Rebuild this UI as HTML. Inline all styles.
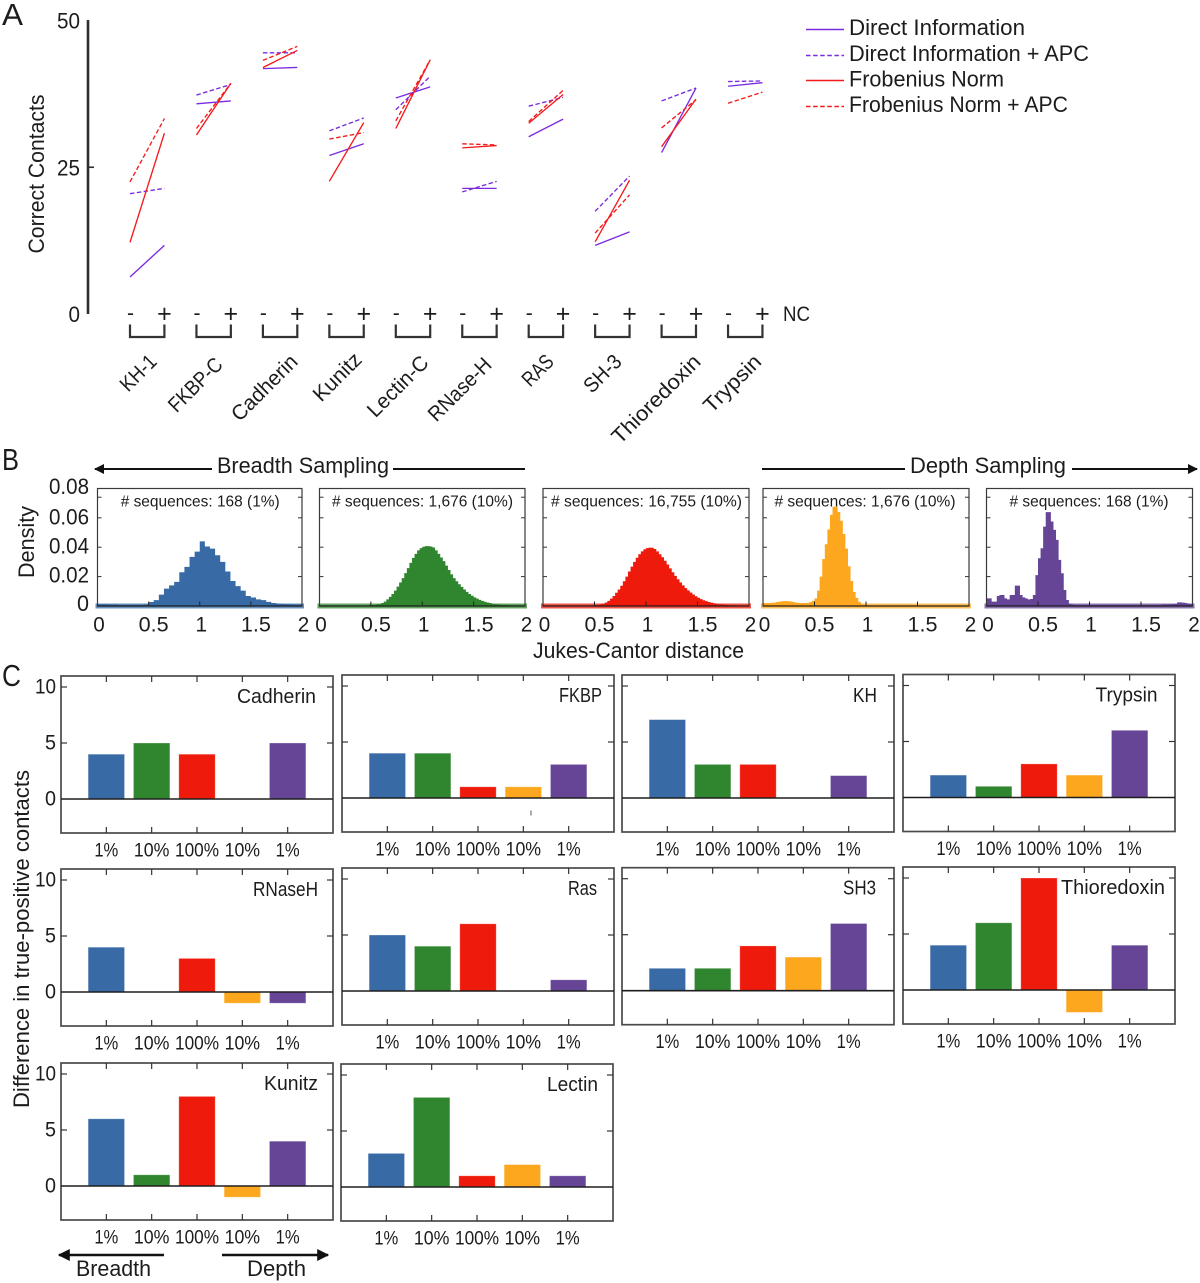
<!DOCTYPE html>
<html lang="en">
<head>
<meta charset="utf-8">
<title>Correct contacts and sampling comparison</title>
<style>
html,body{margin:0;padding:0;background:#fff;}
svg{display:block;}
text{font-family:"Liberation Sans",sans-serif;fill:#1c1c1c;}
</style>
</head>
<body>
<svg id="fig" xmlns="http://www.w3.org/2000/svg" width="1200" height="1283" viewBox="0 0 1200 1283">
  <rect x="0" y="0" width="1200" height="1283" fill="#fff"/>
  <defs>
    <marker id="ah" viewBox="0 0 10 10" refX="9" refY="5" markerWidth="5" markerHeight="5" orient="auto-start-reverse" markerUnits="strokeWidth"><path d="M0 0L10 5L0 10z" fill="#111"/></marker>
  </defs>

  <g id="panel-a">
    <text x="2" y="25" font-size="31" textLength="21" lengthAdjust="spacingAndGlyphs">A</text>
    <text transform="translate(44,174) rotate(-90)" text-anchor="middle" font-size="22" textLength="159" lengthAdjust="spacingAndGlyphs">Correct Contacts</text>
    <text x="783" y="321" font-size="21" textLength="27" lengthAdjust="spacingAndGlyphs">NC</text>
    <g>
      <line x1="806" x2="844" y1="29.5" y2="29.5" stroke="#7a2be0" stroke-width="1.4"/>
      <text x="849" y="35" font-size="22" textLength="176" lengthAdjust="spacingAndGlyphs">Direct Information</text>
      <line x1="806" x2="844" y1="55.5" y2="55.5" stroke="#7a2be0" stroke-width="1.4" stroke-dasharray="4.5 2.6"/>
      <text x="849" y="61" font-size="22" textLength="240" lengthAdjust="spacingAndGlyphs">Direct Information + APC</text>
      <line x1="806" x2="844" y1="80.5" y2="80.5" stroke="#f51a1a" stroke-width="1.4"/>
      <text x="849" y="86.5" font-size="22" textLength="155" lengthAdjust="spacingAndGlyphs">Frobenius Norm</text>
      <line x1="806" x2="844" y1="106.5" y2="106.5" stroke="#f51a1a" stroke-width="1.4" stroke-dasharray="4.5 2.6"/>
      <text x="849" y="112" font-size="22" textLength="219" lengthAdjust="spacingAndGlyphs">Frobenius Norm + APC</text>
    </g>
  </g>

  <g id="panel-b">
    <text x="2" y="470" font-size="31" textLength="17" lengthAdjust="spacingAndGlyphs">B</text>
    <line x1="95" x2="212" y1="469" y2="469" stroke="#111" stroke-width="2" marker-start="url(#ah)"/>
    <line x1="393" x2="525" y1="469" y2="469" stroke="#111" stroke-width="2"/>
    <text x="217" y="473" font-size="22" textLength="172" lengthAdjust="spacingAndGlyphs">Breadth Sampling</text>
    <line x1="762" x2="905" y1="469" y2="469" stroke="#111" stroke-width="2"/>
    <line x1="1072" x2="1197" y1="469" y2="469" stroke="#111" stroke-width="2" marker-end="url(#ah)"/>
    <text x="910" y="473" font-size="22" textLength="156" lengthAdjust="spacingAndGlyphs">Depth Sampling</text>
    <text transform="translate(34,542) rotate(-90)" text-anchor="middle" font-size="22" textLength="72" lengthAdjust="spacingAndGlyphs">Density</text>
    <text x="533" y="658" font-size="22" textLength="211" lengthAdjust="spacingAndGlyphs">Jukes-Cantor distance</text>
    <text x="120.7" y="506.5" font-size="16" textLength="159" lengthAdjust="spacingAndGlyphs"># sequences: 168 (1%)</text>
    <text x="332" y="506.5" font-size="16" textLength="181" lengthAdjust="spacingAndGlyphs"># sequences: 1,676 (10%)</text>
    <text x="551" y="506.5" font-size="16" textLength="191" lengthAdjust="spacingAndGlyphs"># sequences: 16,755 (10%)</text>
    <text x="774.5" y="506.5" font-size="16" textLength="181" lengthAdjust="spacingAndGlyphs"># sequences: 1,676 (10%)</text>
    <text x="1009.5" y="506.5" font-size="16" textLength="159" lengthAdjust="spacingAndGlyphs"># sequences: 168 (1%)</text>
  </g>

  <g id="panel-c">
    <text x="2" y="686" font-size="31" textLength="19" lengthAdjust="spacingAndGlyphs">C</text>
    <text transform="translate(29,939) rotate(-90)" text-anchor="middle" font-size="22" textLength="338" lengthAdjust="spacingAndGlyphs">Difference in true-positive contacts</text>
    <line x1="59" x2="164" y1="1255" y2="1255" stroke="#111" stroke-width="2.4" marker-start="url(#ah)"/>
    <line x1="222" x2="328" y1="1255" y2="1255" stroke="#111" stroke-width="2.4" marker-end="url(#ah)"/>
    <text x="76" y="1276" font-size="22" textLength="75" lengthAdjust="spacingAndGlyphs">Breadth</text>
    <text x="247" y="1276" font-size="22" textLength="59" lengthAdjust="spacingAndGlyphs">Depth</text>
    <rect x="530.5" y="810.5" width="1" height="5" fill="#555"/>
  </g>
</svg>

<script>
/* Panel A data: [no NC, with NC] */
const families = ["KH-1","FKBP-C","Cadherin","Kunitz","Lectin-C","RNase-H","RAS","SH-3","Thioredoxin","Trypsin"];
const directInfo = [[6.3,11.7],[35.8,36.3],[41.8,42],[27,29],[36.8,38.7],[21.4,21.4],[30.2,33.2],[11.7,14],[27.5,38.5],[38.8,39.4]];
const directInfoApc = [[20.5,21.4],[37.3,39.1],[44.5,44.5],[31.2,33.4],[34.8,40.5],[20.8,22.6],[35.4,36.9],[17.5,23.5],[36.3,38.5],[39.6,39.7]];
const frobenius = [[12.2,30.8],[30.5,39.3],[42,44.9],[22.6,32.6],[31.6,43.3],[28.3,28.7],[32.5,37.4],[12.3,22.8],[28.5,36.6],null];
const frobeniusApc = [[22.5,33.3],[31.6,39.3],[43.2,45.6],[29.8,30.9],[32.9,43.3],[29,28.8],[32.8,38.1],[13.8,20.3],[31.7,36.5],[35.9,37.8]];
const aTickLabels = [50,25,0];

/* Panel B data: density per bin, bins span 0..2 */
const histBreadth1 = [.0012,.0012,.001,.001,.0008,.0008,.0008,.0008,.0008,.001,.0027,.004,.0077,.0118,.014,.0164,.023,.0266,.0334,.037,.044,.0405,.039,.0345,.03,.0235,.017,.0135,.0105,.0068,.0058,.0045,.004,.0028,.002,.0016,.0014,.0012,.001,.001];
const histBreadth10 = [.0003,.0003,.0003,.0003,.0003,.0003,.0003,.0003,.0003,.0003,.0003,.0003,.0003,.0003,.0003,.0003,.0003,.0003,.0004,.0005,.0006,.0008,.0011,.0014,.002,.003,.0045,.0062,.0082,.0105,.0132,.016,.019,.0224,.0258,.0293,.0327,.0355,.0378,.0394,.0403,.0407,.0407,.0405,.0398,.0378,.0355,.033,.0305,.0275,.0245,.0215,.019,.0168,.0148,.013,.0112,.0096,.0082,.007,.0059,.005,.0042,.0035,.0029,.0024,.002,.0016,.0013,.0011,.0009,.0008,.0007,.0006,.0005,.0005,.0004,.0004,.0003,.0003];
const histFull = [.0003,.0003,.0003,.0003,.0003,.0003,.0003,.0003,.0003,.0003,.0003,.0003,.0003,.0003,.0003,.0003,.0003,.0003,.0003,.0004,.0006,.0008,.0011,.0016,.0024,.0035,.005,.0068,.009,.0112,.0138,.0168,.02,.0235,.0268,.03,.0328,.0352,.0372,.0386,.0394,.0397,.0396,.0388,.0372,.0352,.0332,.0308,.0282,.0256,.023,.0205,.0182,.016,.014,.0122,.0106,.0092,.0078,.0066,.0056,.0047,.0039,.0033,.0027,.0023,.0019,.0015,.0012,.001,.0009,.0007,.0006,.0005,.0005,.0004,.0004,.0003,.0003,.0003];
const histDepth10 = [.002,.002,.002,.0022,.0023,.0026,.003,.0032,.0033,.0033,.0032,.0028,.0025,.0022,.002,.002,.002,.0022,.0026,.0035,.0052,.0105,.02,.032,.042,.052,.062,.0675,.0675,.064,.058,.049,.039,.027,.017,.0095,.0055,.0028,.0012,.0006,.0004,.0004,.0004,.0004,.0004,.0004,.0004,.0004,.0004,.0004,.0004,.0004,.0004,.0004,.0004,.0004,.0004,.0004,.0004,.0004,.0004,.0004,.0004,.0004,.0004,.0004,.0004,.0004,.0004,.0004,.0004,.0004,.0004,.0004,.0004,.0004,.0004,.0004,.0004,.0004];
const histDepth1 = [.0052,.0052,.003,.003,.0068,.0075,.0075,.0052,.0045,.0075,.0075,.0139,.0139,.0075,.0059,.0052,.0045,.0048,.0075,.021,.0325,.0393,.054,.0639,.0639,.0575,.0518,.045,.0314,.0223,.0109,.0041,.0016,.0009,.0006,.0006,.0006,.0006,.0006,.0006,.0006,.0006,.0006,.0006,.0006,.0006,.0006,.0006,.0006,.0006,.0006,.0006,.0006,.0006,.0006,.0006,.0006,.0006,.0006,.0006,.0006,.0006,.0006,.0006,.0006,.0006,.0006,.0006,.001,.001,.001,.0012,.0014,.0014,.0025,.0025,.0023,.002,.0016,.0014];
const bYTicks = [0.02,0.04,0.06,0.074];
const bXTicks = [0.5,1,1.5];
const bYLabels = ["0.08","0.06","0.04","0.02","0"];
const bXLabels = ["0","0.5","1","1.5","2"];

/* Panel C data */
const proteinNames = ["Cadherin","FKBP","KH","Trypsin","RNaseH","Ras","SH3","Thioredoxin","Kunitz","Lectin"];
const contactDifference = [[4,5,4,0,5],[4,4,1,1,3],[7,3,3,0,2],[2,1,3,2,6],[4,0,3,-1,-1],[5,4,6,0,1],[2,2,4,3,6],[4,6,10,-2,4],[6,1,8,-1,4],[3,8,1,2,1]];
const samplingLabels = ["1%","10%","100%","10%","1%"];
const cYTickLabels = [10,5,0];

/* ---------- drawing ---------- */
const NS = "http://www.w3.org/2000/svg";
const groupA = document.getElementById("panel-a");
const groupB = document.getElementById("panel-b");
const groupC = document.getElementById("panel-c");

function mk(parent, tag, props, name) {
  const el = document.createElementNS(NS, tag);
  for (const k in props) el.setAttribute(k, props[k]);
  
  
  parent.appendChild(el);
  return el;
}
function label(parent, str, props, name) {
  const p = Object.assign({lengthAdjust: "spacingAndGlyphs"}, props);
  const el = mk(parent, "text", p, name);
  el.textContent = str;
  return el;
}
function slug(s) { return String(s).toLowerCase().replace(/[^a-z0-9]+/g, "-"); }

/* Panel A */
const yA = v => 314 - v * 5.87;
const xAMinus = i => 130 + i * 66.45;
const xAPlus = i => xAMinus(i) + 34.4;
const PURPLE = "#7a2be0", RED = "#f51a1a";
mk(groupA, "line", {x1: 88, x2: 88, y1: 20, y2: 314, stroke: "#2e2e2e", "stroke-width": 2.6}, "y-axis-line");
mk(groupA, "line", {x1: 88, x2: 94, y1: yA(25), y2: yA(25), stroke: "#2e2e2e", "stroke-width": 1.6}, "y-axis-tick-25");
aTickLabels.forEach(v => {
  label(groupA, v, {x: 80, y: yA(v) + 8, "text-anchor": "end", "font-size": 22, textLength: v ? 23 : 11.5}, "y-tick-label-" + v);
});
const labelEnds = [[158,363,42],[224,366,67],[299,363,84],[363,361,59],[430,364,77],[493,366,80],[555,363,35],[623,363,44],[702,363,116],[762.6,363,72]];
families.forEach((fam, i) => {
  const g = mk(groupA, "g", {}, "family-" + slug(fam));
  const a = xAMinus(i), b = xAPlus(i);
  label(g, "-", {x: a - 3, y: 320, "font-size": 21}, "nc-minus");
  label(g, "+", {x: b, y: 322, "font-size": 25, "text-anchor": "middle"}, "nc-plus");
  mk(g, "path", {d: `M${a} 324.5V337H${b}V324.5`, fill: "none", stroke: "#333", "stroke-width": 2.2}, "family-bracket");
  const e = labelEnds[i];
  label(g, fam, {transform: `translate(${e[0]},${e[1]}) rotate(-45)`, "text-anchor": "end", "font-size": 21, textLength: e[2]}, "family-label");
  const series = [
    [directInfo[i], PURPLE, false, "direct-information"],
    [directInfoApc[i], PURPLE, true, "direct-information-apc"],
    [frobenius[i], RED, false, "frobenius-norm"],
    [frobeniusApc[i], RED, true, "frobenius-norm-apc"]
  ];
  series.forEach(s => {
    if (!s[0]) return;
    const props = {x1: a, x2: b, y1: yA(s[0][0]), y2: yA(s[0][1]), stroke: s[1], "stroke-width": 1.35};
    if (s[2]) props["stroke-dasharray"] = "4.5 2.4";
    mk(g, "line", props, "line-" + s[3]);
  });
});

/* Panel B */
const histLayout = [[97.5,204.5],[319.5,205.5],[543,206],[763,206],[986.5,206]];
const histSeries = [histBreadth1, histBreadth10, histFull, histDepth10, histDepth1];
const histColors = ["#386ba6","#30862f","#ee1a0c","#fda71f","#664597"];
const histNames = ["breadth-1pct","breadth-10pct","full","depth-10pct","depth-1pct"];
const yB = v => 606 - v * 1470;
histLayout.forEach((box, h) => {
  const left = box[0], w = box[1], right = left + w;
  const xB = d => left + d * w / 2;
  const g = mk(groupB, "g", {}, "histogram-" + histNames[h]);
  const vals = histSeries[h];
  const bw = 2 / vals.length;
  let d = `M${xB(0)} ${yB(0)}`;
  vals.forEach((v, i) => {
    d += `V${yB(v).toFixed(2)}H${xB((i + 1) * bw).toFixed(2)}`;
  });
  d += `V${yB(0)}Z`;
  mk(g, "path", {d: d, fill: histColors[h]}, "histogram-bars");
  mk(g, "rect", {x: left - 2, y: 603.5, width: w + 4, height: 5, fill: histColors[h], opacity: 0.75}, "histogram-baseline-band");
  mk(g, "rect", {x: left, y: 488.5, width: w, height: 117.5, fill: "none", stroke: "#3a3a3a", "stroke-width": 1.2}, "histogram-frame");
  mk(g, "line", {x1: left, x2: right, y1: 606, y2: 606, stroke: "#111", "stroke-width": 1.1}, "histogram-x-axis");
  bYTicks.forEach(t => {
    mk(g, "line", {x1: left, x2: left + 4, y1: yB(t), y2: yB(t), stroke: "#333", "stroke-width": 1}, "y-tick-left");
    mk(g, "line", {x1: right - 4, x2: right, y1: yB(t), y2: yB(t), stroke: "#333", "stroke-width": 1}, "y-tick-right");
  });
  bXTicks.forEach(t => {
    mk(g, "line", {x1: xB(t), x2: xB(t), y1: 601.5, y2: 606, stroke: "#222", "stroke-width": 1}, "x-tick");
  });
  bXLabels.forEach(t => {
    const off = t.length > 1 ? 5 : 1.5;
    label(g, t, {x: xB(parseFloat(t)) + off, y: 631.5, "text-anchor": "middle", "font-size": 21, textLength: t.length > 1 ? 30 : 11.5}, "x-tick-label-" + slug(t));
  });
});
const bLabelBaselines = [494, 524.5, 553.5, 582.5, 611];
bYLabels.forEach((t, i) => {
  label(groupB, t, {x: 89, y: bLabelBaselines[i], "text-anchor": "end", "font-size": 22, textLength: t.length > 1 ? 40 : 12}, "density-tick-label-" + slug(t));
});

/* Panel C */
const colLeft = [61, 342, 622, 903];
const zeroLines = [799,798,798,797.5,992,991,990.7,990,1186,1187];
const colLeftLast = [61, 341];
const nameRight = [316,602,877,1157.5,318,597,876,1165,318,598];
const nameWidth = [79,43,24,62,65,29,33,104,54,51];
const barColors = ["#386ba6","#30862f","#ee1a0c","#fda71f","#664597"];
const UNIT = 11.2, PANEL_W = 272;
const textWidths = [24, 35.5, 44, 35.5, 24];
proteinNames.forEach((name, p) => {
  const left = p < 8 ? colLeft[p % 4] : colLeftLast[p - 8];
  const zero = zeroLines[p];
  const right = left + PANEL_W;
  const xC = i => left + (i + 1) * PANEL_W / 6;
  const yC = v => zero - v * UNIT;
  const g = mk(groupC, "g", {}, "subplot-" + slug(name));
  mk(g, "rect", {x: left, y: zero - 123, width: PANEL_W, height: 157, fill: "none", stroke: "#4a4a4a", "stroke-width": 1.7}, "subplot-frame");
  contactDifference[p].forEach((v, i) => {
    if (v === 0) return;
    const y0 = Math.min(yC(v), yC(0));
    mk(g, "rect", {x: xC(i) - 18.2, y: y0, width: 36.4, height: Math.abs(v) * UNIT, fill: barColors[i], stroke: "#fff", "stroke-opacity": 0.35, "stroke-width": 0.8}, "bar-" + slug(name) + "-" + (i + 1));
  });
  mk(g, "line", {x1: left, x2: right, y1: zero, y2: zero, stroke: "#1e1e1e", "stroke-width": 1.6}, "zero-line");
  [5, 10].forEach(t => {
    mk(g, "line", {x1: left, x2: left + 6, y1: yC(t), y2: yC(t), stroke: "#333", "stroke-width": 1.2}, "y-tick-left");
    mk(g, "line", {x1: right - 6, x2: right, y1: yC(t), y2: yC(t), stroke: "#333", "stroke-width": 1.2}, "y-tick-right");
  });
  samplingLabels.forEach((t, i) => {
    mk(g, "line", {x1: xC(i), x2: xC(i), y1: zero - 123, y2: zero - 117, stroke: "#333", "stroke-width": 1.2}, "x-tick-top");
    mk(g, "line", {x1: xC(i), x2: xC(i), y1: zero + 28, y2: zero + 34, stroke: "#333", "stroke-width": 1.2}, "x-tick-bottom");
    label(g, t, {x: xC(i), y: zero + 57.5, "text-anchor": "middle", "font-size": 19, textLength: textWidths[i]}, "x-tick-label-" + slug(t));
  });
  label(g, name, {x: nameRight[p], y: zero - 96, "text-anchor": "end", "font-size": 20, textLength: nameWidth[p]}, "subplot-title");
  if (p % 4 === 0) {
    cYTickLabels.forEach(t => {
      label(g, t, {x: 56, y: yC(t) + 6.5, "text-anchor": "end", "font-size": 21, textLength: t === 10 ? 21 : 11}, "y-tick-label-" + t);
    });
  }
});
</script>
</body>
</html>
